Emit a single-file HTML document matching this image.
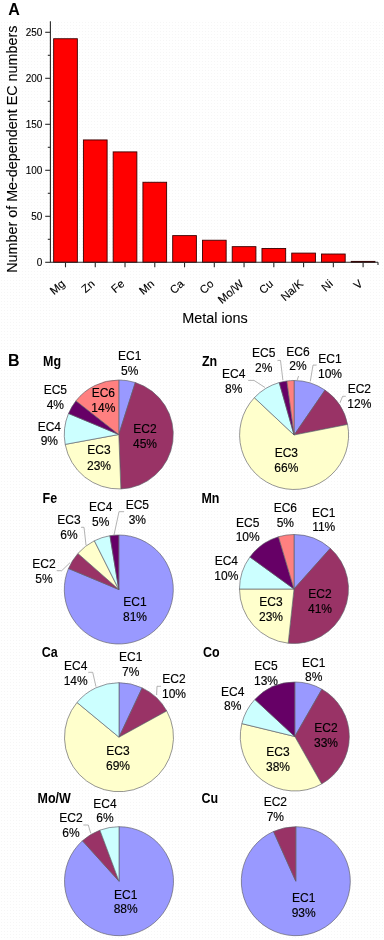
<!DOCTYPE html>
<html lang="en"><head><meta charset="utf-8"><title>Metal-dependent EC numbers</title>
<style>
html,body{margin:0;padding:0;background:#fff;}
body{width:384px;height:940px;overflow:hidden;font-family:"Liberation Sans", Arial, Helvetica, sans-serif;}
svg{display:block;}
</style></head><body>
<svg width="384" height="940" viewBox="0 0 384 940" font-family='"Liberation Sans", Arial, Helvetica, sans-serif'>
<defs><pattern id="dots" x="0" y="0" width="3" height="3" patternUnits="userSpaceOnUse"><rect x="1" y="1" width="1" height="1" fill="#f6f6f6"/></pattern></defs>
<rect x="0" y="0" width="384" height="940" fill="#ffffff"/>
<rect x="0" y="20" width="384" height="920" fill="url(#dots)"/>
<text x="8.3" y="14.9" font-size="16" font-weight="bold" fill="#000">A</text>
<rect x="53.65" y="38.74" width="23.70" height="223.56" fill="#ff0000" stroke="#3a0000" stroke-width="0.9"/>
<rect x="83.41" y="139.94" width="23.70" height="122.36" fill="#ff0000" stroke="#3a0000" stroke-width="0.9"/>
<rect x="113.17" y="151.90" width="23.70" height="110.40" fill="#ff0000" stroke="#3a0000" stroke-width="0.9"/>
<rect x="142.93" y="182.26" width="23.70" height="80.04" fill="#ff0000" stroke="#3a0000" stroke-width="0.9"/>
<rect x="172.69" y="235.62" width="23.70" height="26.68" fill="#ff0000" stroke="#3a0000" stroke-width="0.9"/>
<rect x="202.45" y="240.22" width="23.70" height="22.08" fill="#ff0000" stroke="#3a0000" stroke-width="0.9"/>
<rect x="232.21" y="246.66" width="23.70" height="15.64" fill="#ff0000" stroke="#3a0000" stroke-width="0.9"/>
<rect x="261.97" y="248.50" width="23.70" height="13.80" fill="#ff0000" stroke="#3a0000" stroke-width="0.9"/>
<rect x="291.73" y="253.10" width="23.70" height="9.20" fill="#ff0000" stroke="#3a0000" stroke-width="0.9"/>
<rect x="321.49" y="254.02" width="23.70" height="8.28" fill="#ff0000" stroke="#3a0000" stroke-width="0.9"/>
<rect x="351.25" y="261.38" width="23.70" height="0.92" fill="#ff0000" stroke="#3a0000" stroke-width="0.9"/>
<path d="M50.4 21.2V262.3H378" fill="none" stroke="#2b2b2b" stroke-width="1.1"/>
<path d="M45.20 262.30H50.4" stroke="#2b2b2b" stroke-width="1.1"/>
<text x="42.4" y="265.90" font-size="10" text-anchor="end" fill="#000" stroke="#000" stroke-width="0.1">0</text>
<path d="M47.80 239.30H50.4" stroke="#2b2b2b" stroke-width="1.1"/>
<path d="M45.20 216.30H50.4" stroke="#2b2b2b" stroke-width="1.1"/>
<text x="42.4" y="219.90" font-size="10" text-anchor="end" fill="#000" stroke="#000" stroke-width="0.1">50</text>
<path d="M47.80 193.30H50.4" stroke="#2b2b2b" stroke-width="1.1"/>
<path d="M45.20 170.30H50.4" stroke="#2b2b2b" stroke-width="1.1"/>
<text x="42.4" y="173.90" font-size="10" text-anchor="end" fill="#000" stroke="#000" stroke-width="0.1">100</text>
<path d="M47.80 147.30H50.4" stroke="#2b2b2b" stroke-width="1.1"/>
<path d="M45.20 124.30H50.4" stroke="#2b2b2b" stroke-width="1.1"/>
<text x="42.4" y="127.90" font-size="10" text-anchor="end" fill="#000" stroke="#000" stroke-width="0.1">150</text>
<path d="M47.80 101.30H50.4" stroke="#2b2b2b" stroke-width="1.1"/>
<path d="M45.20 78.30H50.4" stroke="#2b2b2b" stroke-width="1.1"/>
<text x="42.4" y="81.90" font-size="10" text-anchor="end" fill="#000" stroke="#000" stroke-width="0.1">200</text>
<path d="M47.80 55.30H50.4" stroke="#2b2b2b" stroke-width="1.1"/>
<path d="M45.20 32.30H50.4" stroke="#2b2b2b" stroke-width="1.1"/>
<text x="42.4" y="35.90" font-size="10" text-anchor="end" fill="#000" stroke="#000" stroke-width="0.1">250</text>
<path d="M65.50 262.3V267.30" stroke="#2b2b2b" stroke-width="1.1"/>
<text transform="translate(65.80,284.90) rotate(-41)" font-size="11.3" text-anchor="end" fill="#000" stroke="#000" stroke-width="0.1">Mg</text>
<path d="M95.26 262.3V267.30" stroke="#2b2b2b" stroke-width="1.1"/>
<text transform="translate(95.56,284.90) rotate(-41)" font-size="11.3" text-anchor="end" fill="#000" stroke="#000" stroke-width="0.1">Zn</text>
<path d="M125.02 262.3V267.30" stroke="#2b2b2b" stroke-width="1.1"/>
<text transform="translate(125.32,284.90) rotate(-41)" font-size="11.3" text-anchor="end" fill="#000" stroke="#000" stroke-width="0.1">Fe</text>
<path d="M154.78 262.3V267.30" stroke="#2b2b2b" stroke-width="1.1"/>
<text transform="translate(155.08,284.90) rotate(-41)" font-size="11.3" text-anchor="end" fill="#000" stroke="#000" stroke-width="0.1">Mn</text>
<path d="M184.54 262.3V267.30" stroke="#2b2b2b" stroke-width="1.1"/>
<text transform="translate(184.84,284.90) rotate(-41)" font-size="11.3" text-anchor="end" fill="#000" stroke="#000" stroke-width="0.1">Ca</text>
<path d="M214.30 262.3V267.30" stroke="#2b2b2b" stroke-width="1.1"/>
<text transform="translate(214.60,284.90) rotate(-41)" font-size="11.3" text-anchor="end" fill="#000" stroke="#000" stroke-width="0.1">Co</text>
<path d="M244.06 262.3V267.30" stroke="#2b2b2b" stroke-width="1.1"/>
<text transform="translate(244.36,284.90) rotate(-41)" font-size="11.3" text-anchor="end" fill="#000" stroke="#000" stroke-width="0.1">Mo/W</text>
<path d="M273.82 262.3V267.30" stroke="#2b2b2b" stroke-width="1.1"/>
<text transform="translate(274.12,284.90) rotate(-41)" font-size="11.3" text-anchor="end" fill="#000" stroke="#000" stroke-width="0.1">Cu</text>
<path d="M303.58 262.3V267.30" stroke="#2b2b2b" stroke-width="1.1"/>
<text transform="translate(303.88,284.90) rotate(-41)" font-size="11.3" text-anchor="end" fill="#000" stroke="#000" stroke-width="0.1">Na/K</text>
<path d="M333.34 262.3V267.30" stroke="#2b2b2b" stroke-width="1.1"/>
<text transform="translate(333.64,284.90) rotate(-41)" font-size="11.3" text-anchor="end" fill="#000" stroke="#000" stroke-width="0.1">Ni</text>
<path d="M363.10 262.3V267.30" stroke="#2b2b2b" stroke-width="1.1"/>
<text transform="translate(363.40,284.90) rotate(-41)" font-size="11.3" text-anchor="end" fill="#000" stroke="#000" stroke-width="0.1">V</text>
<path d="M378 262.3V264.90" stroke="#2b2b2b" stroke-width="1.1"/>
<text x="215" y="323.3" font-size="14.4" text-anchor="middle" fill="#000" stroke="#000" stroke-width="0.1">Metal ions</text>
<text transform="translate(17,149.2) rotate(-90)" font-size="14.35" text-anchor="middle" fill="#000" stroke="#000" stroke-width="0.1">Number of Me-dependent EC numbers</text>
<text x="8.0" y="365.7" font-size="16" font-weight="bold" fill="#000">B</text>
<text transform="translate(43.0,366.2) scale(0.805,1)" font-size="15.5" font-weight="bold" fill="#000">Mg</text>
<path d="M118.8 434.5L118.80 380.00A54.5 54.5 0 0 1 135.32 382.56Z" fill="#9999ff" stroke="#5c5c66" stroke-width="0.65" stroke-linejoin="round"/>
<path d="M118.8 434.5L135.32 382.56A54.5 54.5 0 0 1 120.85 488.96Z" fill="#993366" stroke="#5c5c66" stroke-width="0.65" stroke-linejoin="round"/>
<path d="M118.8 434.5L120.85 488.96A54.5 54.5 0 0 1 65.20 444.38Z" fill="#ffffcc" stroke="#5c5c66" stroke-width="0.65" stroke-linejoin="round"/>
<path d="M118.8 434.5L65.20 444.38A54.5 54.5 0 0 1 68.51 413.49Z" fill="#ccffff" stroke="#5c5c66" stroke-width="0.65" stroke-linejoin="round"/>
<path d="M118.8 434.5L68.51 413.49A54.5 54.5 0 0 1 75.95 400.83Z" fill="#660066" stroke="#5c5c66" stroke-width="0.65" stroke-linejoin="round"/>
<path d="M118.8 434.5L75.95 400.83A54.5 54.5 0 0 1 118.80 380.00Z" fill="#ff8080" stroke="#5c5c66" stroke-width="0.65" stroke-linejoin="round"/>
<text font-size="12" text-anchor="middle" fill="#000" stroke="#000" stroke-width="0.15"><tspan x="129.7" y="360.1">EC1</tspan><tspan x="129.7" y="375.3">5%</tspan></text>
<text font-size="12" text-anchor="middle" fill="#000" stroke="#000" stroke-width="0.15"><tspan x="145" y="433.4">EC2</tspan><tspan x="145" y="448.4">45%</tspan></text>
<text font-size="12" text-anchor="middle" fill="#000" stroke="#000" stroke-width="0.15"><tspan x="99" y="454.4">EC3</tspan><tspan x="99" y="469.7">23%</tspan></text>
<text font-size="12" text-anchor="middle" fill="#000" stroke="#000" stroke-width="0.15"><tspan x="49.3" y="431.1">EC4</tspan><tspan x="49.3" y="445.4">9%</tspan></text>
<text font-size="12" text-anchor="middle" fill="#000" stroke="#000" stroke-width="0.15"><tspan x="55.3" y="394.1">EC5</tspan><tspan x="55.3" y="408.6">4%</tspan></text>
<text font-size="12" text-anchor="middle" fill="#000" stroke="#000" stroke-width="0.15"><tspan x="103.3" y="397.4">EC6</tspan><tspan x="103.3" y="412.4">14%</tspan></text>
<text transform="translate(202.0,366.2) scale(0.805,1)" font-size="15.5" font-weight="bold" fill="#000">Zn</text>
<path d="M294.1 435L294.10 380.50A54.5 54.5 0 0 1 325.02 390.12Z" fill="#9999ff" stroke="#5c5c66" stroke-width="0.65" stroke-linejoin="round"/>
<path d="M294.1 435L325.02 390.12A54.5 54.5 0 0 1 347.57 424.45Z" fill="#993366" stroke="#5c5c66" stroke-width="0.65" stroke-linejoin="round"/>
<path d="M294.1 435L347.57 424.45A54.5 54.5 0 1 1 254.37 397.69Z" fill="#ffffcc" stroke="#5c5c66" stroke-width="0.65" stroke-linejoin="round"/>
<path d="M294.1 435L254.37 397.69A54.5 54.5 0 0 1 279.22 382.57Z" fill="#ccffff" stroke="#5c5c66" stroke-width="0.65" stroke-linejoin="round"/>
<path d="M294.1 435L279.22 382.57A54.5 54.5 0 0 1 286.93 380.97Z" fill="#660066" stroke="#5c5c66" stroke-width="0.65" stroke-linejoin="round"/>
<path d="M294.1 435L286.93 380.97A54.5 54.5 0 0 1 294.10 380.50Z" fill="#ff8080" stroke="#5c5c66" stroke-width="0.65" stroke-linejoin="round"/>
<path d="M248.2 380.4L254.0 380.4L265.0 387.5" fill="none" stroke="#999999" stroke-width="0.75"/>
<path d="M277.5 360.4L280.5 360.4L282.9 380.3" fill="none" stroke="#999999" stroke-width="0.75"/>
<path d="M298.6 376.0L297.0 380.5" fill="none" stroke="#999999" stroke-width="0.75"/>
<path d="M316.6 365.1L313.0 365.1L310.3 381.4" fill="none" stroke="#999999" stroke-width="0.75"/>
<path d="M345.8 396.3L342.6 396.3L340.0 402.8" fill="none" stroke="#999999" stroke-width="0.75"/>
<text font-size="12" text-anchor="middle" fill="#000" stroke="#000" stroke-width="0.15"><tspan x="330" y="363.1">EC1</tspan><tspan x="330" y="377.6">10%</tspan></text>
<text font-size="12" text-anchor="middle" fill="#000" stroke="#000" stroke-width="0.15"><tspan x="359.3" y="393.4">EC2</tspan><tspan x="359.3" y="408.1">12%</tspan></text>
<text font-size="12" text-anchor="middle" fill="#000" stroke="#000" stroke-width="0.15"><tspan x="286.3" y="457.4">EC3</tspan><tspan x="286.3" y="472.0">66%</tspan></text>
<text font-size="12" text-anchor="middle" fill="#000" stroke="#000" stroke-width="0.15"><tspan x="233.7" y="378.1">EC4</tspan><tspan x="233.7" y="393.1">8%</tspan></text>
<text font-size="12" text-anchor="middle" fill="#000" stroke="#000" stroke-width="0.15"><tspan x="263.7" y="357.4">EC5</tspan><tspan x="263.7" y="372.4">2%</tspan></text>
<text font-size="12" text-anchor="middle" fill="#000" stroke="#000" stroke-width="0.15"><tspan x="298" y="355.8">EC6</tspan><tspan x="298" y="370.4">2%</tspan></text>
<text transform="translate(42.6,502.8) scale(0.805,1)" font-size="15.5" font-weight="bold" fill="#000">Fe</text>
<path d="M118.8 589.5L118.80 535.00A54.5 54.5 0 1 1 68.51 568.49Z" fill="#9999ff" stroke="#5c5c66" stroke-width="0.65" stroke-linejoin="round"/>
<path d="M118.8 589.5L68.51 568.49A54.5 54.5 0 0 1 77.92 553.46Z" fill="#993366" stroke="#5c5c66" stroke-width="0.65" stroke-linejoin="round"/>
<path d="M118.8 589.5L77.92 553.46A54.5 54.5 0 0 1 94.36 540.79Z" fill="#ffffcc" stroke="#5c5c66" stroke-width="0.65" stroke-linejoin="round"/>
<path d="M118.8 589.5L94.36 540.79A54.5 54.5 0 0 1 109.94 535.73Z" fill="#ccffff" stroke="#5c5c66" stroke-width="0.65" stroke-linejoin="round"/>
<path d="M118.8 589.5L109.94 535.73A54.5 54.5 0 0 1 118.80 535.00Z" fill="#660066" stroke="#5c5c66" stroke-width="0.65" stroke-linejoin="round"/>
<path d="M81.0 527.3L84.0 527.3L86.0 545.0" fill="none" stroke="#999999" stroke-width="0.75"/>
<path d="M56.7 570.7L61.7 570.7L70.0 562.7" fill="none" stroke="#999999" stroke-width="0.75"/>
<path d="M124.0 511.7L119.0 511.7L114.0 535.0" fill="none" stroke="#999999" stroke-width="0.75"/>
<text font-size="12" text-anchor="middle" fill="#000" stroke="#000" stroke-width="0.15"><tspan x="135" y="605.8">EC1</tspan><tspan x="135" y="620.8">81%</tspan></text>
<text font-size="12" text-anchor="middle" fill="#000" stroke="#000" stroke-width="0.15"><tspan x="44" y="568.1">EC2</tspan><tspan x="44" y="583.1">5%</tspan></text>
<text font-size="12" text-anchor="middle" fill="#000" stroke="#000" stroke-width="0.15"><tspan x="69" y="524.4">EC3</tspan><tspan x="69" y="539.1">6%</tspan></text>
<text font-size="12" text-anchor="middle" fill="#000" stroke="#000" stroke-width="0.15"><tspan x="100.7" y="511.4">EC4</tspan><tspan x="100.7" y="526.4">5%</tspan></text>
<text font-size="12" text-anchor="middle" fill="#000" stroke="#000" stroke-width="0.15"><tspan x="137.3" y="509.1">EC5</tspan><tspan x="137.3" y="524.1">3%</tspan></text>
<text transform="translate(201.4,502.8) scale(0.805,1)" font-size="15.5" font-weight="bold" fill="#000">Mn</text>
<path d="M294 589L294.00 534.50A54.5 54.5 0 0 1 330.30 548.35Z" fill="#9999ff" stroke="#5c5c66" stroke-width="0.65" stroke-linejoin="round"/>
<path d="M294 589L330.30 548.35A54.5 54.5 0 0 1 288.19 643.19Z" fill="#993366" stroke="#5c5c66" stroke-width="0.65" stroke-linejoin="round"/>
<path d="M294 589L288.19 643.19A54.5 54.5 0 0 1 239.50 589.00Z" fill="#ffffcc" stroke="#5c5c66" stroke-width="0.65" stroke-linejoin="round"/>
<path d="M294 589L239.50 589.00A54.5 54.5 0 0 1 249.91 556.97Z" fill="#ccffff" stroke="#5c5c66" stroke-width="0.65" stroke-linejoin="round"/>
<path d="M294 589L249.91 556.97A54.5 54.5 0 0 1 278.47 536.76Z" fill="#660066" stroke="#5c5c66" stroke-width="0.65" stroke-linejoin="round"/>
<path d="M294 589L278.47 536.76A54.5 54.5 0 0 1 294.00 534.50Z" fill="#ff8080" stroke="#5c5c66" stroke-width="0.65" stroke-linejoin="round"/>
<text font-size="12" text-anchor="middle" fill="#000" stroke="#000" stroke-width="0.15"><tspan x="323.7" y="516.8">EC1</tspan><tspan x="323.7" y="531.0">11%</tspan></text>
<text font-size="12" text-anchor="middle" fill="#000" stroke="#000" stroke-width="0.15"><tspan x="320" y="598.4">EC2</tspan><tspan x="320" y="613.1">41%</tspan></text>
<text font-size="12" text-anchor="middle" fill="#000" stroke="#000" stroke-width="0.15"><tspan x="271" y="606.4">EC3</tspan><tspan x="271" y="621.1">23%</tspan></text>
<text font-size="12" text-anchor="middle" fill="#000" stroke="#000" stroke-width="0.15"><tspan x="226.3" y="564.8">EC4</tspan><tspan x="226.3" y="579.8">10%</tspan></text>
<text font-size="12" text-anchor="middle" fill="#000" stroke="#000" stroke-width="0.15"><tspan x="247.7" y="526.8">EC5</tspan><tspan x="247.7" y="541.4">10%</tspan></text>
<text font-size="12" text-anchor="middle" fill="#000" stroke="#000" stroke-width="0.15"><tspan x="285.3" y="512.4">EC6</tspan><tspan x="285.3" y="527.4">5%</tspan></text>
<text transform="translate(41.8,656.8) scale(0.805,1)" font-size="15.5" font-weight="bold" fill="#000">Ca</text>
<path d="M119 737.2L119.00 682.70A54.5 54.5 0 0 1 142.20 687.89Z" fill="#9999ff" stroke="#5c5c66" stroke-width="0.65" stroke-linejoin="round"/>
<path d="M119 737.2L142.20 687.89A54.5 54.5 0 0 1 166.76 710.94Z" fill="#993366" stroke="#5c5c66" stroke-width="0.65" stroke-linejoin="round"/>
<path d="M119 737.2L166.76 710.94A54.5 54.5 0 1 1 77.01 702.46Z" fill="#ffffcc" stroke="#5c5c66" stroke-width="0.65" stroke-linejoin="round"/>
<path d="M119 737.2L77.01 702.46A54.5 54.5 0 0 1 119.00 682.70Z" fill="#ccffff" stroke="#5c5c66" stroke-width="0.65" stroke-linejoin="round"/>
<path d="M88.3 672.3L92.7 672.3L96.0 686.7" fill="none" stroke="#999999" stroke-width="0.75"/>
<path d="M161.0 686.3L157.0 686.3L156.6 695.0" fill="none" stroke="#999999" stroke-width="0.75"/>
<text font-size="12" text-anchor="middle" fill="#000" stroke="#000" stroke-width="0.15"><tspan x="130.7" y="661.4">EC1</tspan><tspan x="130.7" y="676.4">7%</tspan></text>
<text font-size="12" text-anchor="middle" fill="#000" stroke="#000" stroke-width="0.15"><tspan x="174" y="683.4">EC2</tspan><tspan x="174" y="698.1">10%</tspan></text>
<text font-size="12" text-anchor="middle" fill="#000" stroke="#000" stroke-width="0.15"><tspan x="118" y="755.1">EC3</tspan><tspan x="118" y="770.1">69%</tspan></text>
<text font-size="12" text-anchor="middle" fill="#000" stroke="#000" stroke-width="0.15"><tspan x="75.7" y="669.8">EC4</tspan><tspan x="75.7" y="684.8">14%</tspan></text>
<text transform="translate(203.0,656.8) scale(0.805,1)" font-size="15.5" font-weight="bold" fill="#000">Co</text>
<path d="M294.8 736.5L294.80 682.00A54.5 54.5 0 0 1 321.95 689.24Z" fill="#9999ff" stroke="#5c5c66" stroke-width="0.65" stroke-linejoin="round"/>
<path d="M294.8 736.5L321.95 689.24A54.5 54.5 0 0 1 321.65 783.93Z" fill="#993366" stroke="#5c5c66" stroke-width="0.65" stroke-linejoin="round"/>
<path d="M294.8 736.5L321.65 783.93A54.5 54.5 0 0 1 241.85 723.61Z" fill="#ffffcc" stroke="#5c5c66" stroke-width="0.65" stroke-linejoin="round"/>
<path d="M294.8 736.5L241.85 723.61A54.5 54.5 0 0 1 254.84 699.44Z" fill="#ccffff" stroke="#5c5c66" stroke-width="0.65" stroke-linejoin="round"/>
<path d="M294.8 736.5L254.84 699.44A54.5 54.5 0 0 1 294.80 682.00Z" fill="#660066" stroke="#5c5c66" stroke-width="0.65" stroke-linejoin="round"/>
<text font-size="12" text-anchor="middle" fill="#000" stroke="#000" stroke-width="0.15"><tspan x="313.7" y="666.8">EC1</tspan><tspan x="313.7" y="681.0">8%</tspan></text>
<text font-size="12" text-anchor="middle" fill="#000" stroke="#000" stroke-width="0.15"><tspan x="326" y="732.4">EC2</tspan><tspan x="326" y="746.8">33%</tspan></text>
<text font-size="12" text-anchor="middle" fill="#000" stroke="#000" stroke-width="0.15"><tspan x="278" y="756.4">EC3</tspan><tspan x="278" y="770.8">38%</tspan></text>
<text font-size="12" text-anchor="middle" fill="#000" stroke="#000" stroke-width="0.15"><tspan x="232.7" y="695.8">EC4</tspan><tspan x="232.7" y="710.1">8%</tspan></text>
<text font-size="12" text-anchor="middle" fill="#000" stroke="#000" stroke-width="0.15"><tspan x="266" y="669.8">EC5</tspan><tspan x="266" y="684.8">13%</tspan></text>
<text transform="translate(37.6,802.6) scale(0.805,1)" font-size="15.5" font-weight="bold" fill="#000">Mo/W</text>
<path d="M119 881.2L119.00 826.70A54.5 54.5 0 1 1 82.45 840.78Z" fill="#9999ff" stroke="#5c5c66" stroke-width="0.65" stroke-linejoin="round"/>
<path d="M119 881.2L82.45 840.78A54.5 54.5 0 0 1 99.90 830.16Z" fill="#993366" stroke="#5c5c66" stroke-width="0.65" stroke-linejoin="round"/>
<path d="M119 881.2L99.90 830.16A54.5 54.5 0 0 1 119.00 826.70Z" fill="#ccffff" stroke="#5c5c66" stroke-width="0.65" stroke-linejoin="round"/>
<path d="M83.3 825.0L88.3 825.0L90.7 833.3" fill="none" stroke="#999999" stroke-width="0.75"/>
<text font-size="12" text-anchor="middle" fill="#000" stroke="#000" stroke-width="0.15"><tspan x="125.7" y="899.1">EC1</tspan><tspan x="125.7" y="913.4">88%</tspan></text>
<text font-size="12" text-anchor="middle" fill="#000" stroke="#000" stroke-width="0.15"><tspan x="71" y="821.8">EC2</tspan><tspan x="71" y="836.8">6%</tspan></text>
<text font-size="12" text-anchor="middle" fill="#000" stroke="#000" stroke-width="0.15"><tspan x="105" y="808.1">EC4</tspan><tspan x="105" y="822.4">6%</tspan></text>
<text transform="translate(201.4,803.0) scale(0.805,1)" font-size="15.5" font-weight="bold" fill="#000">Cu</text>
<path d="M295.8 881.2L295.80 826.70A54.5 54.5 0 1 1 273.53 831.46Z" fill="#9999ff" stroke="#5c5c66" stroke-width="0.65" stroke-linejoin="round"/>
<path d="M295.8 881.2L273.53 831.46A54.5 54.5 0 0 1 295.80 826.70Z" fill="#993366" stroke="#5c5c66" stroke-width="0.65" stroke-linejoin="round"/>
<text font-size="12" text-anchor="middle" fill="#000" stroke="#000" stroke-width="0.15"><tspan x="303.7" y="902.4">EC1</tspan><tspan x="303.7" y="916.8">93%</tspan></text>
<text font-size="12" text-anchor="middle" fill="#000" stroke="#000" stroke-width="0.15"><tspan x="275.3" y="805.8">EC2</tspan><tspan x="275.3" y="820.8">7%</tspan></text>
</svg>
</body></html>
